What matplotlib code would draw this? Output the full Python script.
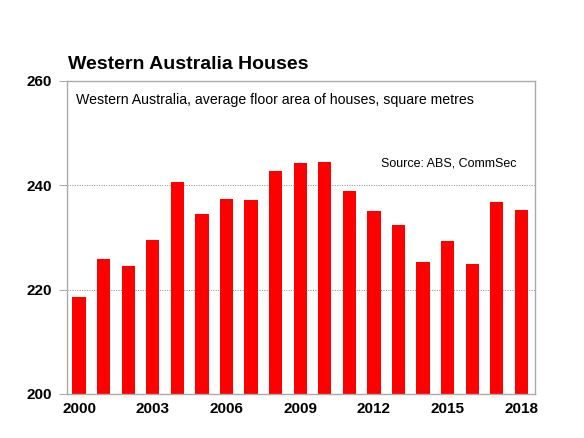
import matplotlib.pyplot as plt

years = list(range(2000, 2019))
floor_area = [218.6, 225.9, 224.5, 229.5, 240.5, 234.4, 237.4, 237.1, 242.6, 244.3,
              244.5, 238.8, 235.0, 232.3, 225.2, 229.3, 224.8, 236.7, 235.2]
year_ticks = [2000, 2003, 2006, 2009, 2012, 2015, 2018]
y_ticks = [200, 220, 240, 260]

plt.rcParams['font.family'] = ['Liberation Sans', 'DejaVu Sans']

fig = plt.figure(figsize=(5.84, 4.38), dpi=100)
ax = fig.add_axes([0.1147, 0.1005, 0.8013, 0.7155])

ax.bar(years, floor_area, width=0.54, color='#ff0000', zorder=2)

ax.set_xlim(1999.51, 2018.55)
ax.set_ylim(200, 260)
ax.set_yticks(y_ticks)
ax.set_xticks(year_ticks)
ax.tick_params(axis='x', length=0, pad=6, labelsize=11)
ax.tick_params(axis='y', length=6, width=0.6, color='#999999', pad=5, labelsize=11)
for lbl in ax.get_xticklabels() + ax.get_yticklabels():
    lbl.set_fontweight('bold')

ax.grid(axis='y', linestyle=(0, (1, 1.5)), color='#888888', linewidth=0.7, zorder=1)
for s in ax.spines.values():
    s.set_color('#aaaaaa')
    s.set_linewidth(1.0)

ax.text(0.02, 0.96, 'Western Australia, average floor area of houses, square metres',
        transform=ax.transAxes, fontsize=10.2, va='top', ha='left')
ax.text(0.67, 0.737, 'Source: ABS, CommSec', transform=ax.transAxes,
        fontsize=9, va='center', ha='left')

fig.text(0.117, 0.852, 'Western Australia Houses', fontsize=14, fontweight='bold',
         va='center', ha='left')

fig.savefig('out.png', dpi=100)
